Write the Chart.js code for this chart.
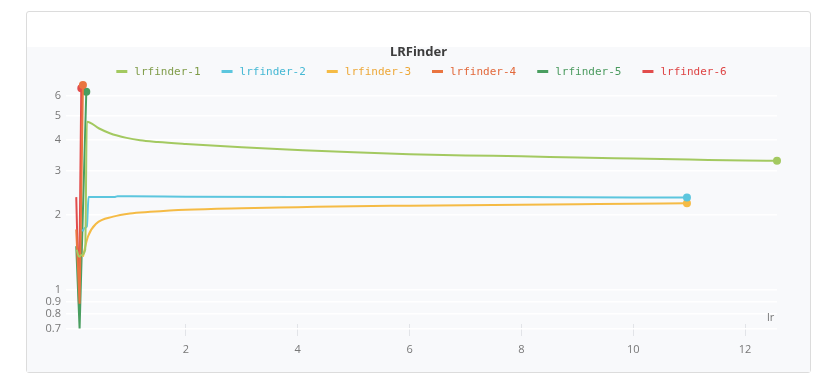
<!DOCTYPE html>
<html>
<head>
<meta charset="utf-8">
<script src="https://cdn.jsdelivr.net/npm/chart.js@4.4.1/dist/chart.umd.min.js"></script>
<style>
  html, body { margin: 0; padding: 0; background: #fff; }
  .card {
    position: absolute; left: 26px; top: 11px;
    width: 783px; height: 360px;
    border: 1px solid #dcdcdc; border-radius: 3px;
    background: #fff;
  }
  canvas { display: block; }
</style>
</head>
<body>
<div class="card"><canvas id="lrChart" width="783" height="360"></canvas></div>
<script>
// --- data (x = lr, y = loss) ---
const seriesNames = ['lrfinder-1', 'lrfinder-2', 'lrfinder-3', 'lrfinder-4', 'lrfinder-5', 'lrfinder-6'];
const lineColors  = ['#a3c960', '#5cc6de', '#f5bb45', '#ea7540', '#4a9e60', '#e24c4c'];
const textColors  = ['#7f9c48', '#45b8d4', '#eda838', '#e2683a', '#4a9a5e', '#de4444'];

const lr1   = [0.05, 0.09, 0.13, 0.20, 0.23, 0.45, 0.64, 0.94, 1.18, 1.5, 2, 3, 4, 5, 6, 7, 8, 9, 10, 11, 12, 12.57];
const loss1 = [1.45, 1.36, 1.38, 1.45, 4.74, 4.45, 4.26, 4.08, 3.99, 3.93, 3.86, 3.74, 3.65, 3.57, 3.51, 3.47, 3.44, 3.40, 3.37, 3.34, 3.31, 3.30];

const lr2   = [0.15, 0.20, 0.23, 0.26, 0.5, 0.72, 0.78, 1, 2, 4, 6, 8, 10, 10.96];
const loss2 = [1.72, 1.78, 1.80, 2.36, 2.36, 2.36, 2.38, 2.38, 2.37, 2.36, 2.36, 2.36, 2.35, 2.35];

const lr3   = [0.16, 0.25, 0.40, 0.70, 1.0, 1.36, 2, 3, 4, 5, 6, 7, 8, 9, 10, 10.96];
const loss3 = [1.36, 1.64, 1.85, 1.97, 2.03, 2.06, 2.10, 2.13, 2.15, 2.17, 2.18, 2.19, 2.20, 2.21, 2.22, 2.23];

const lr4   = [0.04, 0.10, 0.16];
const loss4 = [1.75, 0.88, 6.65];

const lr5   = [0.04, 0.10, 0.22];
const loss5 = [1.50, 0.70, 6.25];

const lr6   = [0.04, 0.09, 0.13];
const loss6 = [2.36, 0.86, 6.45];

const lrSeries   = [lr1, lr2, lr3, lr4, lr5, lr6];
const lossSeries = [loss1, loss2, loss3, loss4, loss5, loss6];

const yTicks = [0.7, 0.8, 0.9, 1, 2, 3, 4, 5, 6];
const xTicks = [2, 4, 6, 8, 10, 12];
const chartTitle = 'LRFinder';
const xTitle = 'lr';

// --- build datasets ---
const datasets = seriesNames.map((name, i) => {
  const pts = lrSeries[i].map((x, k) => ({ x: x, y: lossSeries[i][k] }));
  const last = pts.length - 1;
  return {
    label: name,
    data: pts,
    borderColor: lineColors[i],
    backgroundColor: lineColors[i],
    borderWidth: 2,
    cubicInterpolationMode: i < 3 ? 'monotone' : 'default',
    clip: false,
    pointRadius: pts.map((p, k) => (k === last ? 3 : 0)),
    pointHoverRadius: 4
  };
});

// grey plot background, title, legend and the "lr" label
const decor = {
  id: 'decor',
  beforeDraw(chart) {
    const ctx = chart.ctx;
    ctx.save();
    ctx.fillStyle = '#f8f9fb';
    ctx.fillRect(0, 35, chart.width, chart.height - 35);
    ctx.restore();
  },
  afterDraw(chart) {
    const ctx = chart.ctx;
    const area = chart.chartArea;
    ctx.save();
    // title
    ctx.font = 'bold 13px "Noto Sans", sans-serif';
    ctx.fillStyle = '#3d3d3d';
    ctx.textAlign = 'center';
    ctx.textBaseline = 'middle';
    ctx.fillText(chartTitle, chart.width / 2, 40);

    // legend
    ctx.font = '11px "DejaVu Sans Mono", monospace';
    const boxW = 11, gap = 7, space = 21;
    const widths = seriesNames.map(n => boxW + gap + ctx.measureText(n).width);
    const total = widths.reduce((a, b) => a + b, 0) + space * (widths.length - 1);
    let x = chart.width / 2 - total / 2 + 3;
    const ly = 59.5;
    ctx.textAlign = 'left';
    seriesNames.forEach((n, i) => {
      ctx.fillStyle = lineColors[i];
      ctx.fillRect(x, ly - 1.5, boxW, 3);
      ctx.fillStyle = textColors[i];
      ctx.fillText(n, x + boxW + gap, ly + 0.5);
      x += widths[i] + space;
    });

    // x axis title at the right end
    ctx.font = '11px "Open Sans", sans-serif';
    ctx.fillStyle = '#777';
    ctx.textAlign = 'left';
    ctx.fillText(xTitle, area.right - 10, area.bottom - 18);
    ctx.restore();
  }
};

const ctx = document.getElementById('lrChart').getContext('2d');
new Chart(ctx, {
  type: 'line',
  data: { datasets: datasets },
  plugins: [decor],
  options: {
    responsive: false,
    animation: false,
    layout: { padding: { top: 70, right: 33, left: 0, bottom: 0 } },
    plugins: {
      legend: { display: false },
      title: { display: false },
      tooltip: { mode: 'nearest', intersect: false }
    },
    scales: {
      x: {
        type: 'linear',
        min: 0,
        max: 12.57,
        afterBuildTicks: s => { s.ticks = xTicks.map(v => ({ value: v })); },
        afterFit: s => { s.height = 36; },
        grid: { drawOnChartArea: false, drawTicks: true, tickLength: -12, color: '#e2e4e8' },
        border: { display: false },
        ticks: {
          padding: 19,
          color: '#777',
          font: { family: '"Open Sans", sans-serif', size: 11 },
          callback: v => String(v)
        }
      },
      y: {
        type: 'logarithmic',
        min: 0.6535,
        max: 6.84,
        afterBuildTicks: s => { s.ticks = yTicks.map(v => ({ value: v })); },
        afterFit: s => { s.width = 47; },
        grid: { color: '#ffffff', lineWidth: 1.5, drawTicks: true, tickLength: 8 },
        border: { display: false },
        ticks: {
          padding: 5,
          color: '#777',
          font: { family: '"Open Sans", sans-serif', size: 11 },
          callback: v => String(v)
        }
      }
    }
  }
});
</script>
</body>
</html>
